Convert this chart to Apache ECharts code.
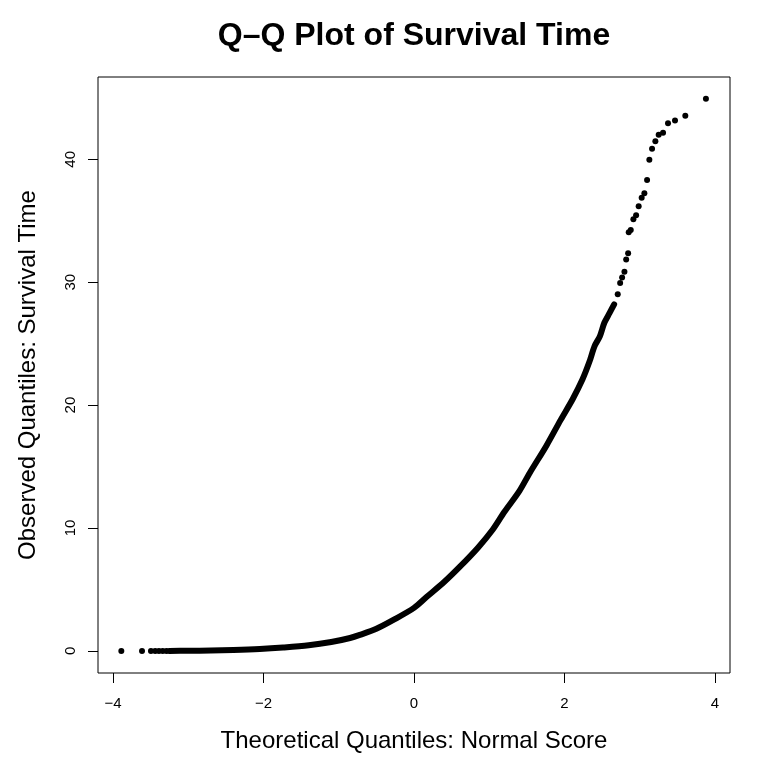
<!DOCTYPE html>
<html>
<head>
<meta charset="utf-8">
<title>Q-Q Plot of Survival Time</title>
<script src="https://cdn.jsdelivr.net/npm/echarts@6/dist/echarts.min.js"></script>
<style>
  html, body { margin: 0; padding: 0; background: #fff; }
  #chart { width: 768px; height: 771px; }
</style>
</head>
<body>
<div id="chart"></div>
<script>
// lower tail: the separate dots on the left
var lowX = [-3.89, -3.615, -3.496, -3.44, -3.39, -3.34, -3.29];
var lowY = [0.0, 0.0, 0.0, 0.0, 0.0, 0.0, 0.0];

// dense part of the curve (reads as a solid band in the picture)
var curveX = [-3.25, -3.0, -2.7, -2.4, -2.05, -1.74, -1.4, -1.1, -0.85, -0.72, -0.5, -0.28, 0.0, 0.17,
              0.4, 0.61, 0.85, 1.05, 1.2, 1.4, 1.54, 1.76, 1.95, 2.11, 2.24, 2.33, 2.4, 2.47,
              2.53, 2.6, 2.66];
var curveY = [0.0, 0.01, 0.03, 0.07, 0.15, 0.27, 0.45, 0.72, 1.05, 1.3, 1.8, 2.5, 3.5, 4.4,
              5.6, 6.85, 8.4, 9.9, 11.3, 13.0, 14.5, 16.7, 18.8, 20.5, 22.1, 23.5, 24.8, 25.6,
              26.7, 27.5, 28.2];

// upper tail: separate dots on the right
var highX = [2.708, 2.74, 2.766, 2.797, 2.82, 2.846, 2.854, 2.881, 2.916, 2.952, 2.986, 3.026,
             3.062, 3.098, 3.128, 3.164, 3.208, 3.252, 3.31, 3.376, 3.469, 3.606, 3.88];
var highY = [29.03, 29.93, 30.39, 30.85, 31.85, 32.36, 34.07, 34.25, 35.12, 35.45, 36.18, 36.88,
             37.23, 38.31, 39.97, 40.86, 41.48, 42.0, 42.16, 42.94, 43.16, 43.54, 44.92];

var xTicks = [-4, -2, 0, 2, 4];
var yTicks = [0, 10, 20, 30, 40];

function pairs(xs, ys) {
  var out = [];
  for (var i = 0; i < xs.length; i++) out.push([xs[i], ys[i]]);
  return out;
}
function minus(v) { return String(v).replace('-', '\u2212'); }

var font = "'Liberation Sans', Arial, Helvetica, sans-serif";
var myChart = echarts.init(document.getElementById('chart'));

var option = {
  animation: false,
  backgroundColor: '#fff',
  title: {
    text: 'Q\u2013Q Plot of Survival Time',
    left: 414,
    top: 20,
    textAlign: 'center',
    padding: 0,
    textStyle: { fontFamily: font, fontSize: 32, fontWeight: 'bold', color: '#000' }
  },
  grid: {
    left: 98, right: 38, top: 77, bottom: 98,
    show: true, borderColor: '#000', borderWidth: 1, backgroundColor: 'transparent'
  },
  xAxis: {
    type: 'value',
    min: -4.2, max: 4.2,
    name: 'Theoretical Quantiles: Normal Score',
    nameLocation: 'middle',
    nameGap: 56,
    nameTextStyle: { fontFamily: font, fontSize: 24, color: '#000' },
    axisLine: { show: false, onZero: false },
    splitLine: { show: false },
    axisTick: { show: true, inside: false, length: 10, customValues: xTicks,
                lineStyle: { color: '#000', width: 1 } },
    axisLabel: { customValues: xTicks, margin: 23, fontFamily: font, fontSize: 15, color: '#000',
                 formatter: minus }
  },
  yAxis: {
    type: 'value',
    min: -1.8, max: 46.7,
    name: 'Observed Quantiles: Survival Time',
    nameLocation: 'middle',
    nameGap: 58,
    nameTextStyle: { fontFamily: font, fontSize: 24, color: '#000' },
    axisLine: { show: false, onZero: false },
    splitLine: { show: false },
    axisTick: { show: true, inside: false, length: 10, customValues: yTicks,
                lineStyle: { color: '#000', width: 1 } },
    axisLabel: { customValues: yTicks, margin: 20, rotate: 90, fontFamily: font, fontSize: 15,
                 color: '#000' }
  },
  series: [
    {
      type: 'line',
      data: pairs(curveX, curveY),
      showSymbol: false,
      smooth: 0.3,
      lineStyle: { color: '#000', width: 6, cap: 'round', join: 'round' },
      silent: true
    },
    {
      type: 'scatter',
      data: pairs(lowX, lowY),
      symbolSize: 6,
      itemStyle: { color: '#000', opacity: 1 }
    },
    {
      type: 'scatter',
      data: pairs(highX, highY),
      symbolSize: 6,
      itemStyle: { color: '#000', opacity: 1 }
    }
  ]
};
myChart.setOption(option);
</script>
</body>
</html>
